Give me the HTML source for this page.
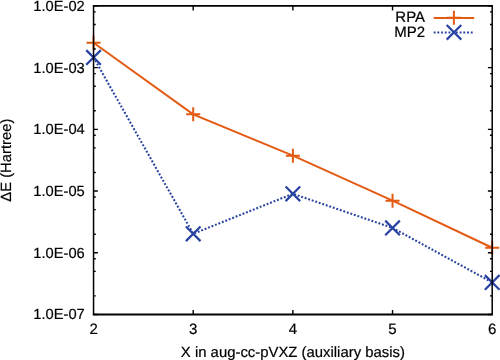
<!DOCTYPE html><html><head><meta charset="utf-8"><style>html,body{margin:0;padding:0;background:#fff;width:500px;height:360px;overflow:hidden}svg{display:block}text{text-rendering:geometricPrecision;font-family:"Liberation Sans",Arial,sans-serif;font-size:15px;fill:#000;stroke:#000;stroke-width:0.2px}</style></head><body>
<svg width="500" height="360" viewBox="0 0 500 360">
<rect width="500" height="360" fill="#fff"/>
<polyline points="93.55,42.80 193.21,114.30 292.88,155.70 392.54,200.70 492.20,247.75" fill="none" stroke="#e35a12" stroke-width="2" stroke-linejoin="miter"/>
<path d="M86.55 42.80H100.55M93.55 35.80V49.80" stroke="#e35a12" stroke-width="2" fill="none"/>
<path d="M186.21 114.30H200.21M193.21 107.30V121.30" stroke="#e35a12" stroke-width="2" fill="none"/>
<path d="M285.88 155.70H299.88M292.88 148.70V162.70" stroke="#e35a12" stroke-width="2" fill="none"/>
<path d="M385.54 200.70H399.54M392.54 193.70V207.70" stroke="#e35a12" stroke-width="2" fill="none"/>
<path d="M485.20 247.75H499.20M492.20 240.75V254.75" stroke="#e35a12" stroke-width="2" fill="none"/>
<polyline points="93.55,57.40 193.21,233.80 292.88,193.80 392.54,227.90 492.20,282.40" fill="none" stroke="#2843a0" stroke-width="2.1" stroke-dasharray="1.9 1.81" stroke-dashoffset="0.24"/>
<path d="M86.25 50.10L100.85 64.70M86.25 64.70L100.85 50.10" stroke="#2843a0" stroke-width="2.2" fill="none"/>
<path d="M185.91 226.50L200.51 241.10M185.91 241.10L200.51 226.50" stroke="#2843a0" stroke-width="2.2" fill="none"/>
<path d="M285.57 186.50L300.18 201.10M285.57 201.10L300.18 186.50" stroke="#2843a0" stroke-width="2.2" fill="none"/>
<path d="M385.24 220.60L399.84 235.20M385.24 235.20L399.84 220.60" stroke="#2843a0" stroke-width="2.2" fill="none"/>
<path d="M484.90 275.10L499.50 289.70M484.90 289.70L499.50 275.10" stroke="#2843a0" stroke-width="2.2" fill="none"/>
<path d="M433.7 17.9H474.2" stroke="#e35a12" stroke-width="2"/>
<path d="M446.90 17.80H460.90M453.90 10.80V24.80" stroke="#e35a12" stroke-width="2" fill="none"/>
<path d="M433.7 32.5H474.2" stroke="#2843a0" stroke-width="2.1" stroke-dasharray="1.9 1.81" stroke-dashoffset="0.05"/>
<path d="M446.70 25.00L461.30 39.60M446.70 39.60L461.30 25.00" stroke="#2843a0" stroke-width="2.2" fill="none"/>
<text x="425.10" y="22.30" text-anchor="end">RPA</text>
<text x="425.10" y="37.30" text-anchor="end">MP2</text>
<path d="M93.55 314.50H97.85M492.20 314.50H487.90M93.55 295.92H95.75M492.20 295.92H490.00M93.55 271.36H95.75M492.20 271.36H490.00M93.55 258.76H95.75M492.20 258.76H490.00M93.55 252.78H97.85M492.20 252.78H487.90M93.55 234.20H95.75M492.20 234.20H490.00M93.55 209.64H95.75M492.20 209.64H490.00M93.55 197.04H95.75M492.20 197.04H490.00M93.55 191.06H97.85M492.20 191.06H487.90M93.55 172.48H95.75M492.20 172.48H490.00M93.55 147.92H95.75M492.20 147.92H490.00M93.55 135.32H95.75M492.20 135.32H490.00M93.55 129.34H97.85M492.20 129.34H487.90M93.55 110.76H95.75M492.20 110.76H490.00M93.55 86.20H95.75M492.20 86.20H490.00M93.55 73.60H95.75M492.20 73.60H490.00M93.55 67.62H97.85M492.20 67.62H487.90M93.55 49.04H95.75M492.20 49.04H490.00M93.55 24.48H95.75M492.20 24.48H490.00M93.55 11.88H95.75M492.20 11.88H490.00M93.55 5.90H97.85M492.20 5.90H487.90M193.21 314.50V310.00M193.21 5.90V10.40M292.88 314.50V310.00M292.88 5.90V10.40M392.54 314.50V310.00M392.54 5.90V10.40" stroke="#000" stroke-width="1.4" fill="none"/>
<path d="M92.80 5.90H492.95M92.80 314.50H492.95" stroke="#000" stroke-width="1.9" fill="none"/>
<path d="M93.55 5.90V314.50M492.20 5.90V314.50" stroke="#000" stroke-width="1.50" fill="none"/>
<text x="84.80" y="319.40" text-anchor="end" style="font-size:14.7px">1.0E-07</text>
<text x="84.80" y="257.68" text-anchor="end" style="font-size:14.7px">1.0E-06</text>
<text x="84.80" y="195.96" text-anchor="end" style="font-size:14.7px">1.0E-05</text>
<text x="84.80" y="134.24" text-anchor="end" style="font-size:14.7px">1.0E-04</text>
<text x="84.80" y="72.52" text-anchor="end" style="font-size:14.7px">1.0E-03</text>
<text x="84.80" y="10.80" text-anchor="end" style="font-size:14.7px">1.0E-02</text>
<text x="93.55" y="334.20" text-anchor="middle">2</text>
<text x="193.21" y="334.20" text-anchor="middle">3</text>
<text x="292.88" y="334.20" text-anchor="middle">4</text>
<text x="392.54" y="334.20" text-anchor="middle">5</text>
<text x="492.20" y="334.20" text-anchor="middle">6</text>
<text x="292.88" y="356.70" text-anchor="middle" style="font-size:14.88px">X in aug-cc-pVXZ (auxiliary basis)</text>
<text transform="translate(11,160.20) rotate(-90)" text-anchor="middle" style="font-size:14.8px">ΔE (Hartree)</text>
</svg></body></html>
